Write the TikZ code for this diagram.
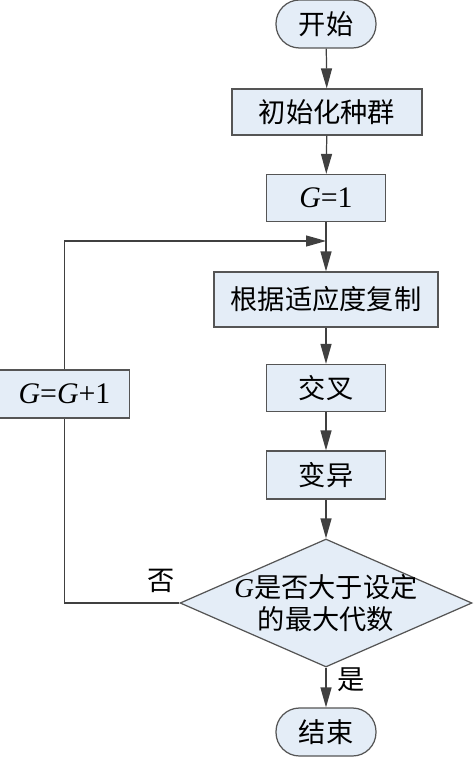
\documentclass[tikz,border=0pt]{standalone}
\usepackage{fontspec}
\usepackage{tikz}
\usetikzlibrary{arrows.meta,shapes.geometric}
\newfontfamily\cjk{Noto Sans CJK SC}
\newfontfamily\latin{Liberation Serif}
\newcommand{\gvar}{{\latin\itshape G}}
\definecolor{boxfill}{HTML}{E4EDF7}
\definecolor{boxline}{HTML}{555555}
\definecolor{flowline}{HTML}{404040}
\tikzset{
  box/.style={draw=boxline, fill=boxfill, line width=0.7pt, inner sep=0pt,
    font=\cjk\fontsize{15.5}{18}\selectfont},
  term/.style={box, rounded corners=0.47cm, minimum width=2cm, minimum height=0.96cm},
  decision/.style={box, diamond, minimum width=5.84cm, minimum height=2.56cm},
  formula/.style={box, font=\latin\fontsize{17}{18}\selectfont},
  flow/.style={draw=flowline, line width=0.7pt, -{Triangle[length=0.4cm,width=0.22cm]}},
  plain/.style={draw=flowline, line width=0.7pt}
}

\begin{document}
\begin{tikzpicture}[x=0.02cm, y=-0.02cm]
            \useasboundingbox (0,0) rectangle (474,757);

            % Nodos
            \node[term] (start) at (326,24) {开始};
            \node[box, minimum width=3.8cm, minimum height=0.92cm] (init) at (327,112) {初始化种群};
            \node[formula, minimum width=2.38cm, minimum height=0.94cm] (gone) at (326,198) {\gvar=1};
            \node[box, minimum width=4.48cm, minimum height=1.1cm] (copy) at (326,299.5) {根据适应度复制};
            \node[box, minimum width=2.38cm, minimum height=0.94cm] (cross) at (326,388) {交叉};
            \node[box, minimum width=2.38cm, minimum height=0.96cm] (mut) at (326,475) {变异};
            \node[decision, label={[font=\cjk\fontsize{15.5}{18}\selectfont, align=center]center:{\gvar 是否大于设定\\的最大代数}}] (check) at (326,603) {};
            \node[term] (stop) at (326,732) {结束};
            \node[formula, minimum width=2.6cm, minimum height=0.96cm] (upd) at (64.5,394) {\gvar=\gvar+1};

            % Punto de retorno
            \coordinate (merge) at (326,241);

            % Flechas
            \draw[flow] (start) -- (init);
            \draw[flow] (init) -- (gone);
            \draw[flow] (gone) -- (copy);
            \draw[flow] (copy) -- (cross);
            \draw[flow] (cross) -- (mut);
            \draw[flow] (mut) -- (check);
            \draw[flow] (check) -- (stop);
            \draw[plain] (check.west) -| (upd.south);
            \draw[flow] (upd.north) |- (merge);

            % Etiquetas
            \node[font=\cjk\fontsize{15.5}{18}\selectfont] (no) at (161,581) {否};
            \node[font=\cjk\fontsize{15.5}{18}\selectfont] (yes) at (351,680) {是};
        \end{tikzpicture}
\end{document}
